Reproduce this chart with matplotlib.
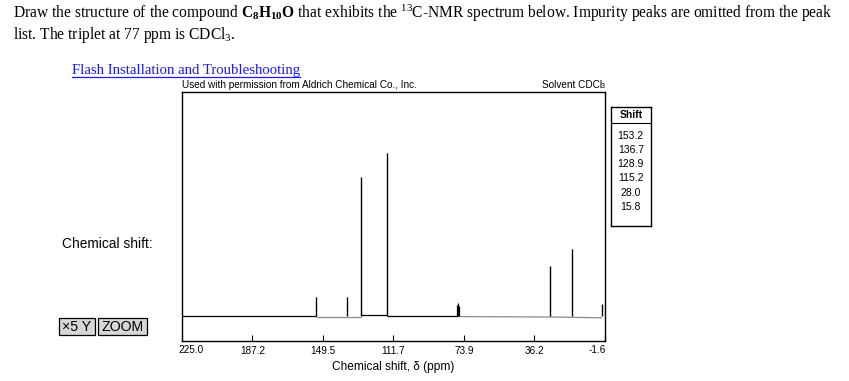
import numpy as np
import matplotlib
matplotlib.use("Agg")
import matplotlib.pyplot as plt
from matplotlib.lines import Line2D
from matplotlib.patches import Rectangle
from matplotlib.transforms import offset_copy

plt.rcParams['mathtext.fontset'] = 'custom'
plt.rcParams['mathtext.rm'] = 'Liberation Serif'
plt.rcParams['mathtext.bf'] = 'Liberation Serif:bold'
plt.rcParams['mathtext.it'] = 'Liberation Serif:italic'

SERIF = 'Liberation Serif'
SANS = 'Liberation Sans'

# datos del espectro 13C (ppm, altura relativa en px)
pico_ppm = [153.2, 136.7, 128.9, 115.2, 28.0, 15.8, 0.0]
pico_altura = [19, 19, 139, 163, 50, 67, 12]
# triplete del CDCl3
triplete_ppm = [77.5, 77.1, 76.7]
triplete_altura = [11, 13, 10]
# linea base por tramos (ppm inicio, ppm fin, y inicio, y fin, color)
base_tramos = [
    (225.0, 153.2, 0.0, 0.0, 'black'),
    (153.2, 128.9, -0.8, -0.8, '#8a8a8a'),
    (128.9, 115.2, 0.8, 0.8, 'black'),
    (115.2, 77.3, 0.0, 0.0, 'black'),
    (77.0, 28.0, -0.6, -1.0, '#8a8a8a'),
    (28.0, 0.0, -1.0, -1.8, '#8a8a8a'),
]
tick_ppm = [225.0, 187.2, 149.5, 111.7, 73.9, 36.2, -1.6]
tick_etiquetas = ["225.0", "187.2", "149.5", "111.7", "73.9", "36.2", "-1.6"]
tabla_shift = ["153.2", "136.7", "128.9", "115.2", "28.0", "15.8"]

W, H = 849, 381
fig = plt.figure(figsize=(W / 100, H / 100), dpi=100)
fig.patch.set_facecolor('white')

def fx(px):
    return px / W

def fy(py):
    return 1 - py / H

# enunciado
fig.text(fx(13), fy(18), r"Draw the structure of the compound $\mathbf{C_8H_{10}O}$ that exhibits the $^{13}$C-NMR spectrum below. Impurity peaks are omitted from the peak",
         family=SERIF, fontsize=11.2, va='baseline')
fig.text(fx(13), fy(39), r"list. The triplet at 77 ppm is CDCl$_3$.", family=SERIF, fontsize=11.2, va='baseline')

enlace = fig.text(fx(72), fy(74), "Flash Installation and Troubleshooting", family=SERIF, fontsize=10.6,
                  color='#1a1aee', va='baseline')
fig.canvas.draw()
bb = enlace.get_window_extent()
fig.add_artist(Line2D([bb.x0 / W, bb.x1 / W], [fy(76.5)] * 2, transform=fig.transFigure,
                      color='#1a1aee', lw=0.9))

fig.text(fx(182), fy(88), "Used with permission from Aldrich Chemical Co., Inc.", family=SANS,
         fontsize=7.2, va='baseline')
fig.text(fx(542), fy(88), "Solvent CDCl", family=SANS, fontsize=7.2, va='baseline')
fig.text(fx(601), fy(88), "3", family=SANS, fontsize=5, va='baseline')

fig.text(fx(62), fy(248), "Chemical shift:", family=SANS, fontsize=9.9, va='baseline')

# botones
for x0, x1, txt in [(59, 95, "×5 Y"), (98, 147, "ZOOM")]:
    fig.add_artist(Rectangle((fx(x0), fy(335)), fx(x1 - x0), (335 - 318) / H, transform=fig.transFigure,
                             facecolor='#d6d6d6', edgecolor='black', lw=0.9))
    fig.text(fx((x0 + x1) / 2), fy(331), txt, family=SANS, fontsize=10.2, ha='center', va='baseline')

# espectro
ax = fig.add_axes([fx(181.7), fy(341), fx(605 - 181.7), (341 - 92) / H])
for p0, p1, y0, y1, c in base_tramos:
    ax.plot([p0, p1], [y0, y1], color=c, lw=0.9, solid_capstyle='butt')
ax.vlines(pico_ppm, 0, pico_altura, color='black', lw=1.0)
ax.vlines(triplete_ppm, 0, triplete_altura, color='black', lw=0.9)
ax.set_xlim(225.0, -1.6)
ax.set_ylim(-25, 224)
ax.set_yticks([])
ax.set_xticks(tick_ppm)
# las etiquetas de los extremos van dentro del recuadro
ax.set_xticklabels([""] + tick_etiquetas[1:-1] + [""], family=SANS, fontsize=7.2)
ax.tick_params(axis='x', direction='in', length=4, width=0.8, pad=3.5)
tr_izq = offset_copy(ax.get_xaxis_transform(), fig=fig, x=-3.5, y=-9, units='dots')
tr_der = offset_copy(ax.get_xaxis_transform(), fig=fig, x=0.5, y=-9, units='dots')
ax.text(tick_ppm[0], 0, tick_etiquetas[0], transform=tr_izq, ha='left', va='center', family=SANS, fontsize=7.2)
ax.text(tick_ppm[-1], 0, tick_etiquetas[-1], transform=tr_der, ha='right', va='center', family=SANS, fontsize=7.2)
for s in ax.spines.values():
    s.set_linewidth(1.0)
ax.set_xlabel("Chemical shift, δ (ppm)", family=SANS, fontsize=8.6, labelpad=3.5)

# tabla de desplazamientos
tab = fig.add_axes([fx(610.5), fy(226), fx(651 - 610.5), (226 - 107) / H])
tab.set_xticks([])
tab.set_yticks([])
tab.set_xlim(0, 1)
tab.set_ylim(119, 0)
for s in tab.spines.values():
    s.set_linewidth(1.0)
tab.text(0.5, 11, "Shift", family=SANS, fontweight='bold', fontsize=7.4, ha='center', va='baseline')
tab.plot([0, 1], [16, 16], color='black', lw=0.8)
for i, v in enumerate(tabla_shift):
    tab.text(0.5, 31.5 + i * 14.3, v, family=SANS, fontsize=7.5, ha='center', va='baseline')

fig.savefig("out.png", dpi=100)
